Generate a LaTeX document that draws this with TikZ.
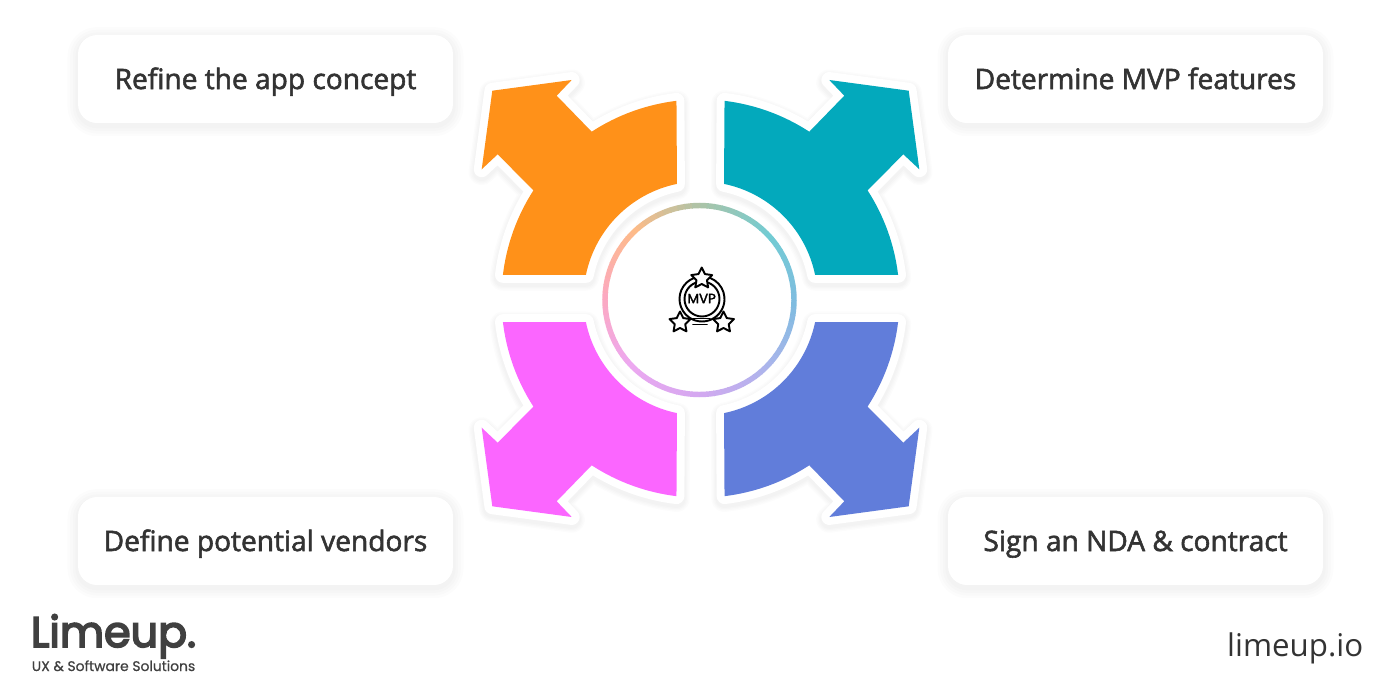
\documentclass[tikz,border=0pt]{standalone}
\usepackage{fontspec}
\usetikzlibrary{shapes.geometric}
\setmainfont{Open Sans}
\newfontfamily\labelfont[FakeBold=2]{Open Sans}
\newfontfamily\logofont[FakeBold=4]{Poppins}
\newfontfamily\logosmall[FakeBold=.8]{Poppins}
\newfontfamily\iconfont[FakeBold=2]{Poppins}
\definecolor{cOrange}{HTML}{FF9119}
\definecolor{cTeal}{HTML}{03A9BC}
\definecolor{cPink}{HTML}{FB66FF}
\definecolor{cBlue}{HTML}{617DDA}
\definecolor{cText}{HTML}{333333}
\definecolor{cLogo}{HTML}{404040}
\tikzset{
shadowpass/.style={preaction={draw=black,draw opacity=.01,line join=round,line width=#1,
  transform canvas={yshift=-1.5pt}}},
softshadow/.style={shadowpass=12pt,shadowpass=9pt,shadowpass=6pt,shadowpass=3pt},
arrowshadow/.style={shadowpass=15pt,shadowpass=13.5pt,shadowpass=12pt,shadowpass=10.5pt},
stepbox/.style={fill=white,rounded corners=.38cm,minimum width=7.5cm,minimum height=1.76cm,
  text=cText,font=\labelfont\fontsize{16}{16}\selectfont,text height=14.8pt,text depth=3.4pt,softshadow},
arrowshape/.style={line join=round,line width=9pt,draw=white},
iconline/.style={line width=1.1pt,line cap=round,black},
iconstar/.style={star,star points=5,star point ratio=2,draw=black,line width=1.1pt,fill=white,
  minimum size=.44cm,inner sep=0pt,line join=round}
}
\begin{document}
\begin{tikzpicture}[x=.02cm,y=-.02cm]
\useasboundingbox (0,0) rectangle (1400,696);
\fill [white] (0,0) rectangle (1400,696);
% text boxes
\node [stepbox] (refine) at (265.5,79) {Refine the app concept};
\node [stepbox] (determine) at (1135.5,79) {Determine MVP features};
\node [stepbox] (vendors) at (265.5,541) {Define potential vendors};
\node [stepbox] (contract) at (1135.5,541) {Sign an NDA \& contract};
% four arrows
\foreach \sx/\sy/\col in {1/-1/cOrange,-1/-1/cTeal,1/1/cPink,-1/1/cBlue}{
\begin{scope}[shift={(700.5,298.5)},xscale=\sx,yscale=\sy]
\path [arrowshape,arrowshadow,postaction={fill=\col}]
  (101.6:117) arc [start angle=101.6,end angle=168.4,radius=117]
  -- (173.2:199) arc [start angle=173.2,end angle=147.1,radius=199]
  -- (-202.8,144.2) -- (-218.8,129.2) -- (-208.2,207.8) -- (-128.8,218.5)
  -- (-143.8,202.8) -- (-108.8,166.8)
  arc [start angle=123.1,end angle=96.9,radius=199] -- cycle;
\end{scope}
}
% gradient ring
\fill [white] (699.5,300) circle (100);
\foreach \angA/\angB/\colA/\colB in {
90/45/A9C4A9/72CCD3,45/0/72CCD3/7FBCE0,0/-45/7FBCE0/AEB4EC,-45/-90/AEB4EC/D5A8F0,
-90/-135/D5A8F0/EDA8F0,-135/-180/EDA8F0/FCA9C0,-180/-225/FCA9C0/FDBB88,-225/-270/FDBB88/A9C4A9}{
\definecolor{ringA}{HTML}{\colA}
\definecolor{ringB}{HTML}{\colB}
\foreach \p in {0,10,...,90}{
\pgfmathsetmacro\angS{\angA+(\angB-\angA)*\p/100}
\pgfmathsetmacro\angE{\angA+(\angB-\angA)*(\p+11)/100}
\draw [ringB!\p!ringA,line width=3.1pt] (699.5,300) ++(-\angS:94.5)
  arc [start angle=-\angS,end angle=-\angE,radius=94.5];
}
}
% icon
\coordinate (badge) at (702,299);
\draw [iconline] (badge) ++(-55:22.5) arc [start angle=-55,end angle=-305,radius=22.5];
\draw [iconline] (badge) ++(55:22.5) arc [start angle=55,end angle=-55,radius=22.5];
\draw [iconline] (badge) circle (17.5);
\draw [iconline] (693,318.5) coordinate (lineA) -- (710,318.5) coordinate (lineB);
\draw [iconline] (693,324.5) coordinate (lineC) -- (707,324.5) coordinate (lineD);
\node [iconstar] (topstar) at (701.7,278.5) {};
\node [iconstar] (leftstar) at (680,322.5) {};
\node [iconstar] (rightstar) at (723.5,322.5) {};
\node [font=\iconfont\fontsize{7.6}{7.6}\selectfont,inner sep=0pt,black] (mvp) at (701.7,298.5) {MVP};
% logo
\node [anchor=base west,inner sep=0pt,text=cLogo,font=\logofont\fontsize{24.4}{24.4}\selectfont] (logo) at (30.5,647) {Limeup.};
\node [anchor=base west,inner sep=0pt,text=cLogo,font=\logosmall\fontsize{7.9}{7.9}\selectfont] (slogan) at (31.5,671) {UX \& Software Solutions};
\node [anchor=base east,inner sep=0pt,text=cText,font=\fontsize{17.8}{17.8}\selectfont] (site) at (1363.5,656) {limeup.io};
\end{tikzpicture}
\end{document}
